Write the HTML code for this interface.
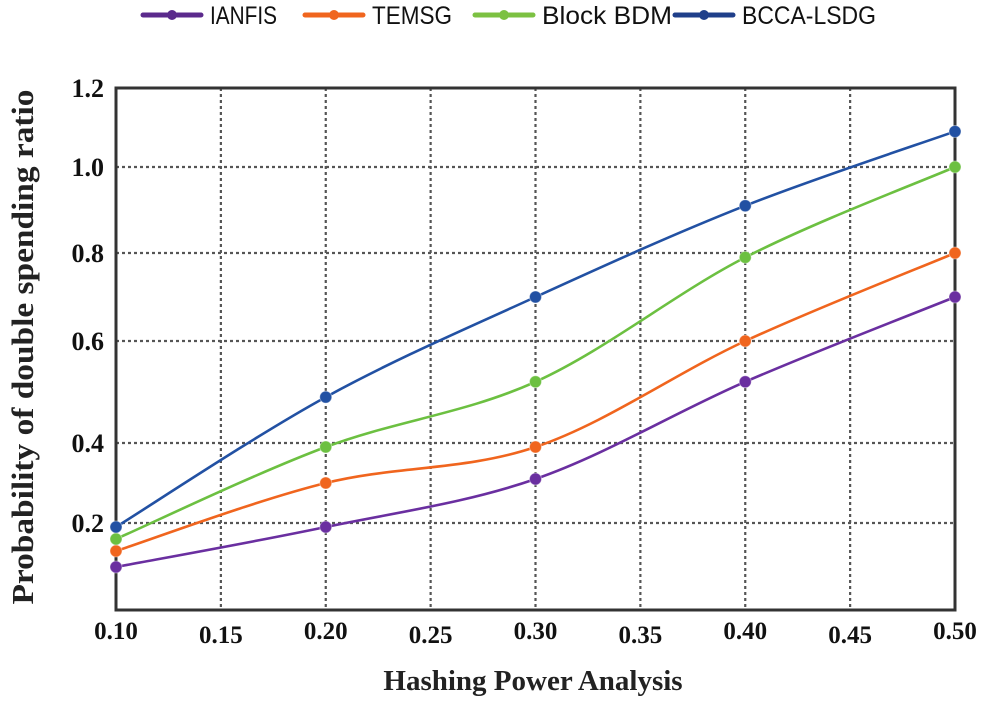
<!DOCTYPE html>
<html><head><meta charset="utf-8"><style>
body{margin:0;background:#fff;width:991px;height:703px;overflow:hidden}
svg{display:block}
</style></head><body>
<svg id="chart" width="991" height="703" xmlns="http://www.w3.org/2000/svg"></svg>
<script>
const xValues=[0.10,0.20,0.30,0.40,0.50];
const xTicks=[0.10,0.15,0.20,0.25,0.30,0.35,0.40,0.45,0.50];
const yTicks=[0.2,0.4,0.6,0.8,1.0,1.2];
const seriesNames=["IANFIS","TEMSG","Block BDM","BCCA-LSDG"];
const ianfis=[0.09,0.19,0.31,0.52,0.70];
const temsg=[0.13,0.30,0.39,0.60,0.80];
const blockBdm=[0.16,0.39,0.52,0.79,1.00];
const bccaLsdg=[0.19,0.49,0.70,0.91,1.09];
const colors=["#6a2fa0","#f0651e","#6cc041","#2251a3"];
const allSeries=[ianfis,temsg,blockBdm,bccaLsdg];

const NS="http://www.w3.org/2000/svg";
const svg=document.getElementById('chart');
const L=116,R=955,T=88,B=610;
function xs(v){return L+(v-0.10)/(0.40)*(R-L);}
const yKnotV=[0,0.2,0.4,0.6,0.8,1.0,1.2];
const yKnotP=[603,523,443,341,253,167,88];
function ys(v){
  for(let i=0;i<yKnotV.length-1;i++){
    if(v<=yKnotV[i+1]||i===yKnotV.length-2){
      const t=(v-yKnotV[i])/(yKnotV[i+1]-yKnotV[i]);
      return yKnotP[i]+t*(yKnotP[i+1]-yKnotP[i]);
    }
  }
}
function el(tag,attrs,parent){const e=document.createElementNS(NS,tag);for(const k in attrs)e.setAttribute(k,attrs[k]);(parent||svg).appendChild(e);return e;}

xTicks.forEach((v,i)=>{
  if(i===0||i===xTicks.length-1)return;
  const g=el('line',{x1:xs(v),x2:xs(v),y1:T,y2:B,stroke:'#555','stroke-width':2.2,'stroke-dasharray':'3 3'});
  
  
});
yTicks.forEach(v=>{
  if(v===1.2)return;
  const g=el('line',{x1:L,x2:R,y1:ys(v),y2:ys(v),stroke:'#555','stroke-width':2.2,'stroke-dasharray':'3 3'});
  
  
});
const frame=el('rect',{x:L,y:T,width:R-L,height:B-T,fill:'none',stroke:'#333','stroke-width':3});



xTicks.forEach((v,i)=>{
  const t=el('text',{x:xs(v),y:(i%2?643:639),'text-anchor':'middle','font-family':'Liberation Serif, serif','font-weight':'bold','font-size':25,fill:'#111'});
  t.textContent=v.toFixed(2);
  
  
});
yTicks.forEach(v=>{
  const t=el('text',{x:104,y:ys(v)+9,'text-anchor':'end','font-family':'Liberation Serif, serif','font-weight':'bold','font-size':26,fill:'#111'});
  t.textContent=v.toFixed(1);
  
  
});
const xt=el('text',{x:533,y:690,'text-anchor':'middle','font-family':'Liberation Serif, serif','font-weight':'bold','font-size':29,fill:'#222'});
xt.textContent='Hashing Power Analysis';


const yt=el('text',{x:0,y:0,transform:'translate(33,347) rotate(-90)','text-anchor':'middle','font-family':'Liberation Serif, serif','font-weight':'bold','font-size':31,fill:'#222',textLength:515,lengthAdjust:'spacingAndGlyphs'});
yt.textContent='Probability of double spending ratio';



function smoothPath(pts){
  let d=`M${pts[0][0]},${pts[0][1]}`;
  for(let i=0;i<pts.length-1;i++){
    const p0=pts[i-1]||pts[i],p1=pts[i],p2=pts[i+1],p3=pts[i+2]||p2;
    const c1=[p1[0]+(p2[0]-p0[0])/6,p1[1]+(p2[1]-p0[1])/6];
    const c2=[p2[0]-(p3[0]-p1[0])/6,p2[1]-(p3[1]-p1[1])/6];
    d+=` C${c1[0]},${c1[1]} ${c2[0]},${c2[1]} ${p2[0]},${p2[1]}`;
  }
  return d;
}
allSeries.forEach((s,si)=>{
  const pts=s.map((v,i)=>[xs(xValues[i]),ys(v)]);
  const p=el('path',{d:smoothPath(pts),fill:'none',stroke:colors[si],'stroke-width':2.6});
  
  
  pts.forEach(pt=>{
    const c=el('circle',{cx:pt[0],cy:pt[1],r:6,fill:colors[si],stroke:'#fff','stroke-opacity':0.4,'stroke-width':1});
    
    
  });
});

const legX=[143,305,475,675];
const legW=[67,80,130,134];
const legLineColors=["#5b2a8c","#f0651e","#7cc142","#1f3f8a"];
seriesNames.forEach((n,i)=>{
  const g=el('g',{});
  
  
  el('line',{x1:legX[i],x2:legX[i]+58,y1:15,y2:15,stroke:legLineColors[i],'stroke-width':5,'stroke-linecap':'round'},g);
  el('circle',{cx:legX[i]+29,cy:15,r:5,fill:legLineColors[i]},g);
  const t=el('text',{x:legX[i]+67,y:24,'font-family':'Liberation Sans, sans-serif','font-size':25,fill:'#111',textLength:legW[i],lengthAdjust:'spacingAndGlyphs'},g);
  t.textContent=n;
});
</script>
</body></html>
